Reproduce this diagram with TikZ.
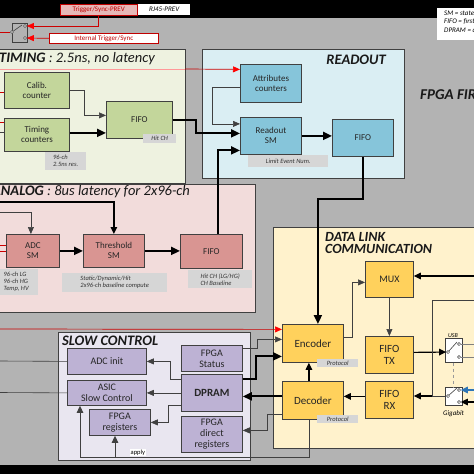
\documentclass[tikz,border=0pt]{standalone}
\usepackage{fontspec}
\setmainfont{Carlito}
\usetikzlibrary{arrows.meta}
\definecolor{bggrey}{HTML}{B3B3B3}
\definecolor{timbg}{HTML}{EEF2E0}
\definecolor{timblk}{HTML}{C3D69B}
\definecolor{robg}{HTML}{DAEEF3}
\definecolor{roblk}{HTML}{86C5DA}
\definecolor{anbg}{HTML}{F2DCDB}
\definecolor{anblk}{HTML}{D99592}
\definecolor{dlbg}{HTML}{FFF2CC}
\definecolor{dlblk}{HTML}{FFD15C}
\definecolor{scbg}{HTML}{E9E6F0}
\definecolor{scblk}{HTML}{BDB2D4}
\definecolor{lblgrey}{HTML}{D6D6D6}
\definecolor{darkred}{HTML}{C00000}
\definecolor{pinkbox}{HTML}{E6B8B7}
\definecolor{linegrey}{HTML}{404040}
\definecolor{bluearr}{HTML}{2E75B6}
\begin{document}
\begin{tikzpicture}[x=1pt,y=-1pt,
  region/.style={draw=linegrey, line width=0.9pt, anchor=north west, inner sep=0pt},
  blk/.style={draw=linegrey, line width=0.8pt, anchor=north west, inner sep=1pt, align=center, text=black!85, font=\fontsize{9}{10}\selectfont},
  scb/.style={blk, fill=scblk, font=\fontsize{10}{11}\selectfont},
  dlb/.style={blk, fill=dlblk, font=\fontsize{11}{12}\selectfont},
  lbl/.style={fill=lblgrey, anchor=north west, inner sep=1pt, align=left, font=\fontsize{6.5}{7}\selectfont\itshape, text=black!80},
  ttl/.style={anchor=west, font=\fontsize{14.5}{15}\selectfont\bfseries\itshape, text=black!90, inner sep=0pt},
  ln/.style={draw=linegrey, line width=0.6pt},
  arr/.style={ln, -{Triangle[length=5pt,width=4.5pt]}},
  barr/.style={ln, -{Triangle[length=7pt,width=6pt]}},
  medarr/.style={draw=black, line width=1.2pt, -{Triangle[length=7pt,width=6.5pt]}},
  tln/.style={draw=black, line width=2pt},
  tarr/.style={tln, -{Triangle[length=9pt,width=8pt]}},
  redln/.style={draw=red!80!black, line width=0.7pt},
  rarr/.style={redln, -{Triangle[length=7pt,width=6pt,fill=red,color=red]}},
  swc/.style={circle, draw=linegrey, fill=white, inner sep=0pt, minimum size=3.2pt, line width=0.5pt}]
\useasboundingbox (0,0) rectangle (474,474);
\clip (0,0) rectangle (474,474);
\fill[bggrey] (0,0) rectangle (474,474);
\fill[black] (0,0) rectangle (474,18);
\fill[black] (0,465) rectangle (474,474);

% ---------- top area ----------
\node[anchor=north west, fill=pinkbox, draw=darkred, line width=0.6pt, minimum width=77, minimum height=11, inner sep=0pt, font=\fontsize{7}{8}\selectfont, text=darkred] (trig) at (60,4) {Trigger/Sync-PREV};
\node[anchor=north west, fill=white, minimum width=52, minimum height=11, inner sep=0pt, font=\fontsize{7}{8}\selectfont\itshape] (rj) at (138,4) {RJ45-PREV};
\node[anchor=north west, fill=white, draw=darkred, line width=0.6pt, minimum width=109, minimum height=10, inner sep=0pt, font=\fontsize{7}{8}\selectfont, text=darkred] (intr) at (49,33) {Internal Trigger/Sync};
\node[anchor=north west, draw=linegrey, line width=0.6pt, minimum width=15, minimum height=19, inner sep=0pt] (sw) at (12,23) {};
\node[swc] (swp) at (12,32) {};
\node[swc] (swa) at (25,26) {};
\node[swc] (swb) at (25,38) {};
\coordinate (swl) at (22,25);
\draw[ln] (swp) -- (swl);
\coordinate (Ltop) at (0,32);
\draw[redln] (Ltop) -- (swp);
\draw[rarr] (trig.south) |- (swa);
\draw[rarr] (intr.west) -- (swb);

\node[anchor=north west, fill=white, minimum width=40, minimum height=32, inner sep=0pt] (leg) at (437,8) {};
\node[anchor=north west, font=\fontsize{7}{8.5}\selectfont\itshape, align=left, inner sep=0pt] (legt) at (444,10) {SM = state machine\\FIFO = first in first out\\DPRAM = dual port RAM};

\node[ttl, font=\fontsize{15}{16}\selectfont\bfseries\itshape] (fw) at (420,95) {FPGA FIRMWARE};

% ---------- regions ----------
\node[region, fill=timbg, minimum width=195, minimum height=134] (timing) at (-10,49) {};
\node[region, fill=robg, minimum width=202, minimum height=129] (readout) at (202,49) {};
\node[region, fill=anbg, minimum width=265, minimum height=128] (analog) at (-10,184) {};
\node[region, fill=dlbg, minimum width=215, minimum height=221] (dlink) at (273,227) {};
\node[region, fill=scbg, minimum width=192, minimum height=128] (slow) at (58,332) {};

\node[ttl] (tt) at (-1,59) {TIMING \textmd{: 2.5ns, no latency}};
\node[ttl, anchor=east] (rt) at (386,60) {READOUT};
\node[ttl] (at) at (-8,192) {ANALOG \textmd{: 8us latency for 2x96-ch}};
\node[ttl, anchor=north west, align=left, font=\fontsize{14}{12.5}\selectfont\bfseries\itshape] (dt) at (325,232) {DATA LINK\\COMMUNICATION};
\node[ttl] (st) at (62,341) {SLOW CONTROL};

% ---------- blocks ----------
\node[blk, fill=timblk, minimum width=65, minimum height=36] (calib) at (4,72) {Calib.\\counter};
\node[blk, fill=timblk, minimum width=65, minimum height=33] (tcnt) at (4,118) {Timing\\counters};
\node[blk, fill=timblk, minimum width=66, minimum height=37] (tfifo) at (106,101) {FIFO};

\node[blk, fill=roblk, minimum width=61, minimum height=38] (attr) at (240,64) {Attributes\\counters};
\node[blk, fill=roblk, minimum width=61, minimum height=37] (rsm) at (240,117) {Readout\\SM};
\node[blk, fill=roblk, minimum width=61, minimum height=37] (rfifo) at (332,119) {FIFO};

\node[blk, fill=anblk, minimum width=53, minimum height=33] (adc) at (6,234) {ADC\\SM};
\node[blk, fill=anblk, minimum width=61, minimum height=33] (thr) at (83,234) {Threshold\\SM};
\node[blk, fill=anblk, minimum width=62, minimum height=34] (afifo) at (180,234) {FIFO};

\node[scb, minimum width=79, minimum height=26] (adci) at (67,348) {ADC init};
\node[scb, minimum width=79, minimum height=25] (asic) at (67,380) {ASIC\\Slow Control};
\node[scb, minimum width=61, minimum height=26] (fregs) at (89,409) {FPGA\\registers};
\node[scb, minimum width=61, minimum height=26] (fstat) at (181,345) {FPGA\\Status};
\node[scb, minimum width=61, minimum height=37, font=\fontsize{11}{12}\selectfont\bfseries] (dpram) at (181,374) {DPRAM};
\node[scb, minimum width=61, minimum height=36] (fdir) at (181,416) {FPGA\\direct\\registers};

\node[dlb, minimum width=48, minimum height=36, font=\fontsize{10}{11}\selectfont] (mux) at (365,261) {MUX};
\node[dlb, minimum width=61, minimum height=38] (enc) at (282,324) {Encoder};
\node[dlb, minimum width=48, minimum height=37] (ftx) at (365,336) {FIFO\\TX};
\node[dlb, minimum width=61, minimum height=38] (dec) at (282,381) {Decoder};
\node[dlb, minimum width=48, minimum height=37] (frx) at (365,381) {FIFO\\RX};

% switches
\node[anchor=north west, draw=linegrey, fill=white, minimum width=17, minimum height=24, inner sep=0pt, line width=0.6pt] (usb) at (445,338) {};
\node[anchor=north west, draw=linegrey, fill=white, minimum width=17, minimum height=18, inner sep=0pt, line width=0.6pt] (gig) at (445,387) {};
\node[swc] (usp) at (448,352) {};
\node[swc] (usa) at (459,344) {};
\node[swc] (usb2) at (459,357) {};
\coordinate (usl) at (457,342);
\draw[ln] (usp) -- (usl);
\node[swc] (gp) at (448,396) {};
\node[swc] (gia) at (459,390) {};
\node[swc] (gib) at (459,402) {};
\coordinate (gil) at (457,388);
\draw[ln] (gp) -- (gil);
\node[font=\fontsize{6}{7}\selectfont\itshape, anchor=south, inner sep=0.5pt] (usbl) at (453,338) {USB};
\node[font=\fontsize{7}{8}\selectfont\itshape, anchor=north west, inner sep=0pt] (gigl) at (443,410) {Gigabit};
\draw[dashed, draw=black!40, line width=0.8pt] (usb.south) -- (gig.north);

% ---------- connectors ----------
% timing
\coordinate (Lt1) at (0,92);
\draw[redln] (Lt1) -- (Lt1 -| calib.west);
\coordinate (Lt2) at (0,122);
\draw[redln] (Lt2) -- (Lt2 -| tcnt.west);
\coordinate (Lt0) at (0,132);
\draw[ln] (Lt0) -- (Lt0 -| tcnt.west);
\draw[barr] (calib.east) -- ++(14,0) |- ([yshift=4.5]tfifo.west);
\draw[tarr] ([yshift=2]tcnt.east) -- ([yshift=2]tcnt.east -| tfifo.west);
\draw[tarr] (tfifo.east) -- ++(23,0) |- ([yshift=2.5]rsm.west);

% readout
\coordinate (Lr0) at (0,69);
\coordinate (Lr1) at (185,69);
\draw[draw=red!40, line width=0.7pt] (Lr0) -- (Lr1);
\draw[rarr] (Lr1) -- ([yshift=14]attr.west);
\draw[barr] ([yshift=-4]attr.west) -- ++(-28,0) |- ([yshift=12]rsm.west);
\draw[tarr] (rsm.east) -- (rsm.east -| rfifo.west);
\draw[tarr] ([xshift=7]afifo.north) |- ([yshift=-14.5]rsm.west);
\draw[tarr] (rfifo.south) -- ++(0,42) -| ([xshift=5]enc.north);

% analog
\coordinate (La1) at (0,212);
\draw[barr] (La1) -| ([xshift=-2]adc.north);
\coordinate (La2) at (0,202);
\draw[medarr] (La2) -| (thr.north);
\coordinate (La3) at (0,245);
\draw[redln] (La3) -- (La3 -| adc.west);
\coordinate (La4) at (0,251);
\draw[redln] (La4) -- (La4 -| adc.west);
\draw[tarr] (adc.east) -- (adc.east -| thr.west);
\draw[tarr] (thr.east) -- (thr.east -| afifo.west);

% slow control
\coordinate (Ls1) at (0,361);
\draw[ln] (Ls1) -- (adci.west);
\coordinate (Ls2) at (0,392.5);
\draw[ln] (Ls2) -- (asic.west);
\draw[barr] ([yshift=14]dpram.west) -- ++(-11,0) |- (adci.east);
\draw[barr] (dpram.west) -- (asic.east);
\draw[barr] ([yshift=-12]dpram.west) -- ++(-13,0) |- (fregs.east);
\draw[barr] ([yshift=10]fstat.east) -- ++(14,0) |- ([yshift=4]enc.west);
\draw[tarr] ([yshift=14]dpram.east) -- ++(13,0) |- ([yshift=-13]enc.west);
\draw[tarr] ([yshift=4]dec.west) -- ([yshift=4]dec.west -| dpram.east);
\draw[barr] ([yshift=-14]dec.west) -- ++(-15,0) |- ([yshift=4]fdir.east);
\coordinate (Lred) at (0,329);
\draw[rarr] (Lred) -- ([yshift=14]enc.west);
\coordinate (Bb) at (80,457);
\coordinate (Bf) at (115,457);
\draw[ln] ([xshift=-4]dec.south) |- (Bb);
\draw[medarr, line width=0.6pt, draw=linegrey] (Bb) -- (Bb |- asic.south);
\draw[medarr, line width=0.6pt, draw=linegrey] (Bf) -- (Bf |- fregs.south);
\draw[medarr] ([xshift=-4]dec.north) -- ([xshift=-4]enc.south);

% data link
\draw[barr] ([yshift=6]enc.east) -- ++(8,0) |- ([yshift=-3]mux.west);
\draw[barr] (mux.south) -- (mux.south |- ftx.north);
\coordinate (Rm) at (474,276);
\draw[medarr] (Rm) -- (Rm -| mux.east);
\draw[medarr] ([yshift=2.5]ftx.east) -- (usp);
\coordinate (Rl) at (474,300);
\coordinate (Jr) at (432,396);
\draw[ln] (Rl) -| (Jr);
\draw[ln] (gp) -- (Jr);
\draw[medarr] (Jr) -- (Jr -| frx.east);
\draw[medarr] ([yshift=3.5]frx.west) -- ([yshift=3.5]frx.west -| dec.east);
\coordinate (Ru1) at (474,344);
\coordinate (Ru2) at (474,357);
\draw[ln, draw=black!50] (usa) -- (Ru1);
\draw[ln, draw=black!50] (usb2) -- (Ru2);
\coordinate (Rg1) at (474,390);
\coordinate (Rg2) at (474,402);
\draw[draw=bluearr, line width=1.5pt, -{Triangle[length=7pt,width=6.5pt]}] (Rg1) -- (gia);
\draw[medarr] (Rg2) -- (gib);

% ---------- grey labels ----------
\node[lbl, minimum width=33, minimum height=9] (lhit) at (143,134) {Hit CH};
\node[lbl, minimum width=41, minimum height=18] (lres) at (45,152) {96-ch\\2.5ns res.};
\node[lbl, minimum width=80, minimum height=12] (llim) at (248,155) {Limit Event Num.};
\node[lbl, minimum width=44, minimum height=26] (lan1) at (-6,269) {96-ch LG\\96-ch HG\\Temp, HV};
\node[lbl, minimum width=105, minimum height=19] (lan2) at (62,273) {Static/Dynamic/Hit\\2x96-ch baseline compute};
\node[lbl, minimum width=64, minimum height=18] (lan3) at (188,270) {Hit CH (LG/HG)\\CH Baseline};
\node[lbl, minimum width=41, minimum height=8] (lp1) at (317,359) {Protocol};
\node[lbl, minimum width=41, minimum height=8] (lp2) at (317,415) {Protocol};
\node[fill=white, font=\fontsize{6.5}{7}\selectfont, inner sep=0.5pt, anchor=north west] (apply) at (130,449) {apply};
\end{tikzpicture}
\end{document}
